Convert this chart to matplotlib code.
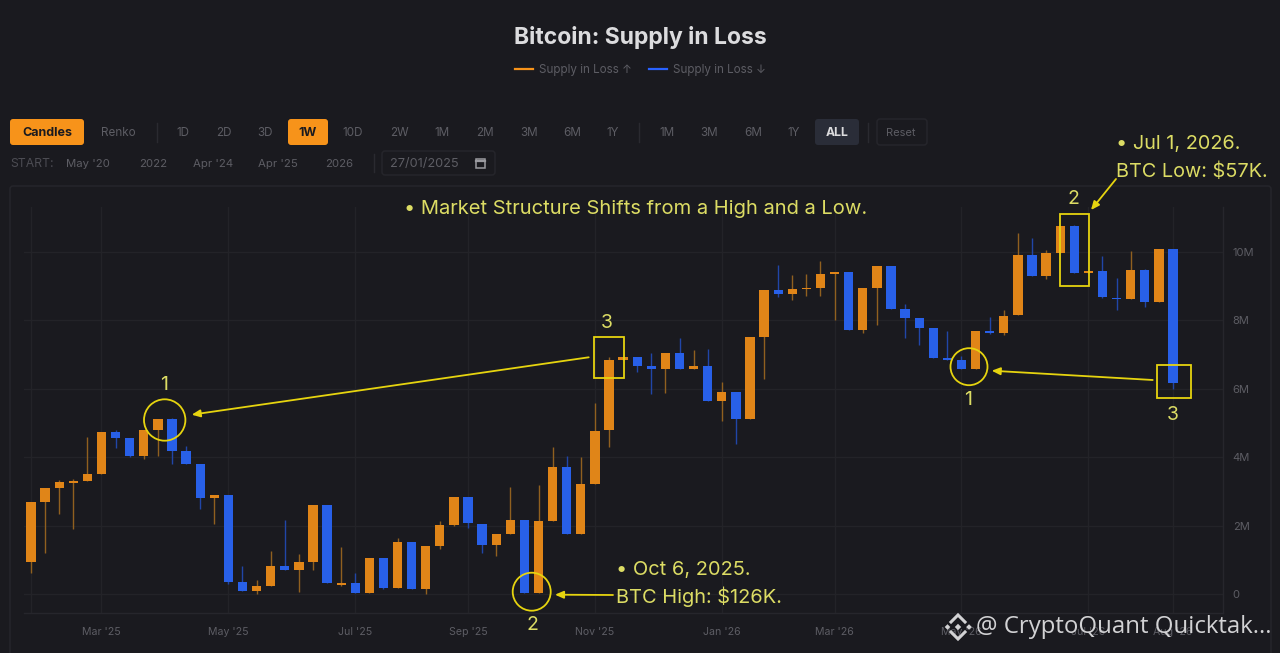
import numpy as np
import pandas as pd
import matplotlib
matplotlib.use('Agg')
import matplotlib.pyplot as plt
from matplotlib.patches import Rectangle, Circle, FancyBboxPatch, Polygon

plt.rcParams['font.family'] = ['Inter', 'DejaVu Sans']

# weekly candles, values in millions of BTC
dates = pd.date_range('2025-01-27', periods=82, freq='7D')
body_top = [2.69, 3.11, 3.27, 3.30, 3.52, 4.73, 4.73, 4.57, 4.80, 5.11,
            5.11, 4.17, 3.79, 2.90, 2.90, 0.34, 0.23, 0.81, 0.81, 0.94,
            2.60, 2.60, 0.31, 0.31, 1.06, 1.06, 1.53, 1.53, 1.39, 2.03,
            2.84, 2.84, 2.06, 1.75, 2.15, 2.15, 2.13, 3.71, 3.71, 3.22,
            4.77, 6.84, 6.94, 6.94, 6.67, 7.04, 7.04, 6.66, 6.66, 5.91,
            5.91, 7.52, 8.90, 8.90, 8.91, 8.95, 9.35, 9.42, 9.42, 8.95,
            9.58, 9.58, 8.33, 8.06, 7.78, 6.89, 6.85, 7.69, 7.68, 8.13,
            9.92, 9.92, 9.98, 10.76, 10.76, 9.44, 9.44, 8.66, 9.47, 9.47,
            10.09, 10.09]
body_bottom = [0.94, 2.70, 3.11, 3.25, 3.30, 3.52, 4.57, 4.03, 4.03, 4.80,
               4.17, 3.79, 2.80, 2.80, 0.34, 0.10, 0.10, 0.23, 0.69, 0.69,
               0.95, 0.31, 0.26, 0.02, 0.02, 0.18, 0.18, 0.15, 0.15, 1.39,
               2.03, 2.07, 1.44, 1.43, 1.75, 0.03, 0.03, 2.13, 1.75, 1.75,
               3.22, 4.79, 6.84, 6.68, 6.57, 6.57, 6.57, 6.57, 5.65, 5.65,
               5.12, 5.12, 7.52, 8.77, 8.77, 8.91, 8.95, 9.36, 7.72, 7.72,
               8.96, 8.34, 8.07, 7.79, 6.91, 6.84, 6.58, 6.58, 7.63, 7.63,
               8.15, 9.30, 9.30, 9.98, 9.38, 9.38, 8.68, 8.62, 8.62, 8.53,
               8.53, 6.18]
wick_high = [2.69, 3.11, 3.33, 3.35, 4.59, 4.73, 4.80, 4.57, 4.80, 5.11,
             5.15, 4.32, 3.79, 2.90, 2.90, 0.81, 0.41, 1.26, 2.16, 1.16,
             2.60, 2.60, 1.37, 0.61, 1.06, 1.06, 1.65, 1.53, 1.39, 2.13,
             2.84, 2.84, 2.06, 1.75, 3.12, 2.15, 3.19, 4.31, 4.04, 4.01,
             5.59, 6.92, 6.94, 6.94, 7.06, 7.04, 7.48, 7.13, 7.16, 6.20,
             5.91, 7.52, 8.90, 9.62, 9.32, 9.36, 9.74, 9.42, 9.42, 8.95,
             9.58, 9.58, 8.49, 8.06, 7.78, 7.68, 6.97, 7.69, 8.11, 8.30,
             10.56, 10.40, 10.06, 10.76, 10.79, 9.44, 9.89, 9.24, 10.04, 9.52,
             10.09, 10.09]
wick_low = [0.62, 1.21, 2.35, 1.90, 3.30, 3.52, 4.27, 4.01, 3.94, 4.04,
            3.81, 3.79, 2.48, 2.06, 0.30, 0.10, -0.01, 0.23, 0.69, 0.07,
            0.70, 0.31, 0.23, 0.02, 0.02, 0.15, 0.18, 0.15, 0.00, 1.32,
            1.99, 1.94, 1.21, 1.11, 1.75, 0.03, 0.03, 2.13, 1.75, 1.75,
            3.22, 4.31, 6.84, 6.48, 5.86, 5.89, 6.57, 6.57, 5.65, 5.07,
            4.39, 5.12, 6.30, 8.69, 8.59, 8.72, 8.71, 8.00, 7.72, 7.64,
            7.87, 8.34, 7.50, 7.28, 6.91, 6.84, 6.58, 6.58, 7.60, 7.57,
            8.15, 9.30, 9.22, 9.98, 9.38, 9.38, 8.65, 8.32, 8.62, 8.39,
            8.53, 6.01]
# U = supply up (orange), D = supply down (blue)
direction = list('UUUUUUDDUUDDDUDDUUDUUDUDUDUDUUUDDUUDUUDUUUUDDUDUDUDUUDUUUUDUUDDDDDDUDUUDUUDUDDUDUD')

tick_dates = ['2025-01-27', '2025-03-03', '2025-05-05', '2025-07-07', '2025-09-01', '2025-11-03',
              '2026-01-05', '2026-03-02', '2026-05-04', '2026-07-06', '2026-08-31']
tick_labels = ['', "Mar '25", "May '25", "Jul '25", "Sep '25", "Nov '25",
               "Jan '26", "Mar '26", "May '26", "Jul '26", "Aug '26"]
y_ticks = [0, 2, 4, 6, 8, 10]
y_labels = ['0', '2M', '4M', '6M', '8M', '10M']

BG = '#1a1a1f'
GRID = '#232328'
ORANGE = '#e08518'
BLUE = '#2860e8'
ORANGE_WICK = '#90601f'
BLUE_WICK = '#2146a8'
MUTED = '#5d5d64'
YELLOW = '#e6d40f'
PALE = '#dcdc64'

W, H = 1280, 653
fig = plt.figure(figsize=(W / 100, H / 100), dpi=100, facecolor=BG)

# chart area
ax = fig.add_axes([24 / W, 1 - 613 / H, (1223 - 24) / W, (613 - 207) / H], facecolor='none')
x = np.arange(len(dates))
orange_mask = np.array(direction) == 'U'
top = np.array(body_top)
bottom = np.array(body_bottom)
colors = np.where(orange_mask, ORANGE, BLUE)
wick_colors = np.where(orange_mask, ORANGE_WICK, BLUE_WICK)

ax.vlines(x, wick_low, wick_high, colors=wick_colors, linewidth=1.0, zorder=2)
ax.bar(x, top - bottom, 0.66, bottom=bottom, color=colors, zorder=3)

tick_pos = [dates.get_indexer([pd.Timestamp(d)], method='nearest')[0] for d in tick_dates]
ax.set_xticks(tick_pos)
ax.set_xticklabels(tick_labels, fontsize=7.6, color=MUTED)
ax.set_yticks(y_ticks)
ax.set_yticklabels(y_labels, fontsize=8, color=MUTED)
ax.yaxis.tick_right()
ax.tick_params(length=0, pad=10, axis='x')
ax.tick_params(length=0, pad=7, axis='y')
ax.set_xlim(-0.496, 84.55)
ax.set_ylim(-0.556, 11.32)
ax.grid(True, color=GRID, linewidth=1.0)
ax.set_axisbelow(True)
for s in ['top', 'left']:
    ax.spines[s].set_visible(False)
for s in ['bottom', 'right']:
    ax.spines[s].set_color('#26262c')
    ax.spines[s].set_linewidth(1.0)

# page overlay in pixel coordinates: toolbar, title, hand drawn annotations
ov = fig.add_axes([0, 0, 1, 1], facecolor='none')
ov.set_xlim(0, W)
ov.set_ylim(H, 0)
ov.axis('off')

ov.text(640.5, 37.5, 'Bitcoin: Supply in Loss', ha='center', va='center', fontsize=16.5,
        fontweight='bold', color='#dcdcde')
ov.plot([515, 533], [68.5, 68.5], color='#f7931a', lw=1.6)
ov.plot([649, 667], [68.5, 68.5], color='#2962ff', lw=1.6)
ov.text(539, 70, 'Supply in Loss ↑', ha='left', va='center', fontsize=8.4, color=MUTED)
ov.text(673, 70, 'Supply in Loss ↓', ha='left', va='center', fontsize=8.4, color=MUTED)


def button(x0, x1, y0, y1, face, edge='none'):
    ov.add_patch(FancyBboxPatch((x0, y0), x1 - x0, y1 - y0, boxstyle='round,pad=0,rounding_size=3',
                                facecolor=face, edgecolor=edge, linewidth=1.0))


button(10, 84, 119, 145, '#f7931a')
button(288, 328, 119, 145, '#f7931a')
button(815, 859, 119, 145, '#2a2d38')
button(877, 927, 119, 145, 'none', '#26262c')
button(382, 495, 151, 175, 'none', '#26262c')
button(10, 1271, 186, 670, 'none', '#26262c')

toolbar_text = [('Renko', 118), ('1D', 183), ('2D', 224), ('3D', 265), ('10D', 353), ('2W', 399),
                ('1M', 442), ('2M', 485), ('3M', 529), ('6M', 572), ('1Y', 613),
                ('1M', 667), ('3M', 709), ('6M', 753), ('1Y', 794)]
for label, cx in toolbar_text:
    ov.text(cx, 133, label, ha='center', va='center', fontsize=8.4, color=MUTED)
ov.text(47, 133, 'Candles', ha='center', va='center', fontsize=9, fontweight='bold', color='#1a1a1f')
ov.text(308, 133, '1W', ha='center', va='center', fontsize=9, fontweight='bold', color='#1a1a1f')
ov.text(837, 133, 'ALL', ha='center', va='center', fontsize=8.8, fontweight='bold', color='#dcdcde')
ov.text(901, 133, 'Reset', ha='center', va='center', fontsize=8, color=MUTED)
for sx in [157, 639, 868]:
    ov.plot([sx, sx], [123, 142], color='#2a2a30', lw=1)
ov.plot([374, 374], [154, 172], color='#2a2a30', lw=1)

ov.text(10, 164, 'START:', ha='left', va='center', fontsize=8.8, color='#4c4c53')
for label, cx in [("May '20", 88), ('2022', 153), ("Apr '24", 213), ("Apr '25", 278), ('2026', 339)]:
    ov.text(cx, 164, label, ha='center', va='center', fontsize=8.2, color=MUTED)
ov.text(390, 164, '27/01/2025', ha='left', va='center', fontsize=9.2, color=MUTED)
ov.add_patch(Rectangle((476, 159), 9, 9, facecolor='none', edgecolor='#9a9aa0', linewidth=1.1))
ov.plot([476, 485], [161, 161], color='#9a9aa0', lw=1.6)

# yellow markings
for (bx0, bx1, by0, by1) in [(594, 623.7, 337.3, 377.7), (1060, 1089.3, 214.3, 286.3), (1156.7, 1190.7, 365.3, 397.7)]:
    ov.add_patch(Rectangle((bx0, by0), bx1 - bx0, by1 - by0, facecolor='none', edgecolor=YELLOW, linewidth=1.3))
for (cx, cy, r) in [(164.7, 420, 20.7), (531.7, 591.7, 19), (969, 366.7, 18.5)]:
    ov.add_patch(Circle((cx, cy), r, facecolor='none', edgecolor=YELLOW, linewidth=1.3))
for (start, end) in [((588.7, 357.3), (191.7, 414.7)), ((613, 595), (555, 594.7)),
                     ((1116, 179), (1091, 210)), ((1152.7, 380), (991.7, 370.7))]:
    ov.annotate('', xy=end, xytext=start,
                arrowprops=dict(arrowstyle='-|>,head_length=0.5,head_width=0.22', color=YELLOW, lw=1.3,
                                shrinkA=0, shrinkB=0))

for label, cx, cy in [('1', 164, 385), ('3', 607, 323), ('2', 532, 625), ('2', 1073, 199), ('1', 968, 400), ('3', 1173, 415)]:
    ov.text(cx, cy, label, ha='center', va='center', fontsize=14, color=PALE)

ov.text(404, 209, '• Market Structure Shifts from a High and a Low.', ha='left', va='center', fontsize=14.5, color=PALE)
ov.text(616, 570, '• Oct 6, 2025.', ha='left', va='center', fontsize=14.4, color=PALE)
ov.text(616, 597, 'BTC High: $126K.', ha='left', va='center', fontsize=14.4, color=PALE)
ov.text(1116, 144, '• Jul 1, 2026.', ha='left', va='center', fontsize=14.3, color=PALE)
ov.text(1116, 172, 'BTC Low: $57K.', ha='left', va='center', fontsize=14.3, color=PALE)

# watermark
ov.text(976, 627, '@ CryptoQuant Quicktak...', ha='left', va='center', fontsize=17.3, color='#d2d2d4',
        family=['Open Sans', 'DejaVu Sans'])
mark = '#d2d2d4'
for (mx, my, s) in [(947.5, 627, 2.8), (969, 627, 2.8), (958, 627, 3.2)]:
    ov.add_patch(Polygon([(mx - s, my), (mx, my - s), (mx + s, my), (mx, my + s)], facecolor=mark, edgecolor='none'))
ov.plot([951, 958, 965], [622, 615, 622], color=mark, lw=2.2, solid_joinstyle='miter')
ov.plot([951, 958, 965], [632, 639, 632], color=mark, lw=2.2, solid_joinstyle='miter')

fig.savefig('out.png', dpi=100, facecolor=BG)
